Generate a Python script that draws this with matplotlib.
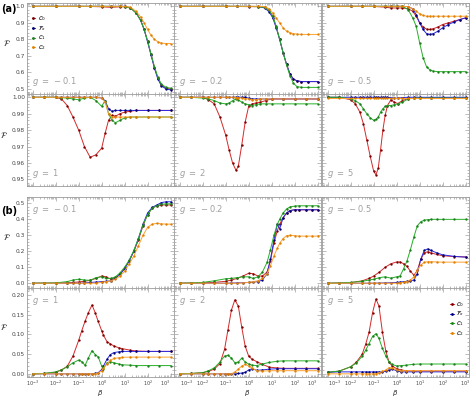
import matplotlib
matplotlib.use('Agg')
import matplotlib.pyplot as plt
import matplotlib.ticker as mticker
import numpy as np

# series labels and colours (line, marker)
labels = [r'$\mathcal{C}_0$', r'$\mathcal{F}_x$', r'$\mathcal{C}_1$', r'$\mathcal{C}_2$']
line_cols = ['#d42a2a', '#2a2ae6', '#26b026', '#ffa233']
mark_cols = ['#7a0000', '#00006e', '#1d7d1d', '#e07f00']

g_top = ['-0.1', '-0.2', '-0.5']
g_bot = ['1', '2', '5']

# ---------- (a) top row : log10(beta) grids and values ----------
a1_x = [-3, -2, -1, -0.5, 0, 0.4, 0.8, 1.0, 1.25, 1.5, 1.7, 1.85, 2.0, 2.15, 2.3, 2.45, 2.6, 2.8, 3.0]
a1_c0 = [1.0, 1.0, 1.0, 0.999, 0.997, 0.994, 0.997, 0.997, 0.99, 0.96, 0.915, 0.86, 0.79, 0.71, 0.63, 0.565, 0.525, 0.505, 0.50]
a1_fx = [1.0, 1.0, 1.0, 1.0, 1.0, 1.0, 1.0, 1.0, 0.992, 0.962, 0.915, 0.86, 0.785, 0.705, 0.625, 0.56, 0.52, 0.50, 0.495]
a1_c1 = [1.0, 1.0, 1.0, 1.0, 1.0, 0.999, 0.999, 0.998, 0.99, 0.96, 0.915, 0.86, 0.79, 0.71, 0.635, 0.57, 0.53, 0.51, 0.505]
a1_c2 = [1.0, 1.0, 1.0, 1.0, 1.0, 1.0, 1.0, 0.999, 0.995, 0.97, 0.935, 0.90, 0.86, 0.825, 0.80, 0.785, 0.778, 0.775, 0.775]

a2_x = [-3, -2, -1, -0.5, 0, 0.4, 0.7, 0.9, 1.05, 1.2, 1.35, 1.5, 1.65, 1.8, 1.95, 2.1, 2.3, 2.6, 3.0]
a2_c0 = [1.0, 1.0, 1.0, 0.999, 0.998, 0.998, 0.995, 0.975, 0.94, 0.875, 0.80, 0.72, 0.65, 0.59, 0.56, 0.55, 0.545, 0.545, 0.545]
a2_fx = [1.0, 1.0, 1.0, 1.0, 1.0, 0.999, 0.99, 0.965, 0.93, 0.87, 0.80, 0.72, 0.65, 0.59, 0.56, 0.55, 0.545, 0.545, 0.545]
a2_c1 = [1.0, 1.0, 1.0, 1.0, 0.999, 0.998, 0.993, 0.975, 0.94, 0.88, 0.80, 0.72, 0.645, 0.58, 0.535, 0.515, 0.51, 0.51, 0.51]
a2_c2 = [1.0, 1.0, 1.0, 1.0, 1.0, 1.0, 0.998, 0.985, 0.96, 0.93, 0.90, 0.87, 0.85, 0.84, 0.835, 0.832, 0.83, 0.83, 0.83]

a3_x = [-3, -2, -1.5, -1, -0.5, -0.25, 0, 0.25, 0.5, 0.7, 0.85, 1.0, 1.15, 1.3, 1.45, 1.6, 1.8, 2.0, 2.25, 2.5, 2.75, 3.0]
a3_c0 = [1.0, 1.0, 1.0, 0.999, 0.995, 0.99, 0.99, 0.99, 0.985, 0.97, 0.94, 0.90, 0.875, 0.862, 0.86, 0.865, 0.875, 0.89, 0.90, 0.91, 0.92, 0.93]
a3_fx = [1.0, 1.0, 1.0, 1.0, 1.0, 1.0, 1.0, 1.0, 0.998, 0.985, 0.95, 0.90, 0.86, 0.835, 0.83, 0.835, 0.85, 0.87, 0.89, 0.905, 0.92, 0.93]
a3_c1 = [1.0, 1.0, 1.0, 1.0, 1.0, 1.0, 1.0, 1.0, 0.98, 0.93, 0.88, 0.78, 0.69, 0.635, 0.615, 0.608, 0.605, 0.605, 0.605, 0.605, 0.605, 0.605]
a3_c2 = [1.0, 1.0, 1.0, 1.0, 1.0, 1.0, 1.0, 1.0, 0.998, 0.985, 0.97, 0.955, 0.945, 0.94, 0.94, 0.94, 0.94, 0.94, 0.94, 0.94, 0.94, 0.94]

# ---------- (a) bottom row ----------
a4_x = [-3, -2.5, -2, -1.75, -1.5, -1.25, -1.0, -0.75, -0.5, -0.25, 0, 0.15, 0.3, 0.45, 0.6, 0.8, 1.0, 1.25, 1.5, 2, 2.5, 3]
a4_c0 = [1.0, 1.0, 1.0, 0.999, 0.995, 0.988, 0.980, 0.970, 0.9635, 0.965, 0.969, 0.978, 0.986, 0.989, 0.9885, 0.990, 0.991, 0.9915, 0.992, 0.992, 0.992, 0.992]
a4_fx = [1.0, 1.0, 1.0, 1.0, 1.0, 1.0, 1.0, 1.0, 1.0, 1.0, 0.9995, 0.998, 0.993, 0.9915, 0.992, 0.992, 0.992, 0.992, 0.992, 0.992, 0.992, 0.992]
a4_c1 = [1.0, 1.0, 1.0, 0.9998, 0.9995, 0.999, 0.9985, 0.9995, 1.0, 0.998, 0.9945, 0.998, 0.99, 0.986, 0.9845, 0.986, 0.9875, 0.988, 0.988, 0.988, 0.988, 0.988]
a4_c2 = [1.0, 1.0, 1.0, 1.0, 1.0, 1.0, 1.0, 1.0, 1.0, 1.0, 0.9995, 0.997, 0.99, 0.988, 0.988, 0.988, 0.988, 0.988, 0.988, 0.988, 0.988, 0.988]

a5_x = [-3, -2.5, -2, -1.75, -1.5, -1.25, -1.0, -0.85, -0.7, -0.55, -0.45, -0.3, -0.15, 0, 0.15, 0.3, 0.5, 0.75, 1.0, 1.5, 2, 2.5, 3]
a5_c0 = [1.0, 1.0, 1.0, 0.9985, 0.996, 0.988, 0.977, 0.968, 0.960, 0.9555, 0.958, 0.971, 0.985, 0.9945, 0.996, 0.9965, 0.997, 0.998, 0.999, 0.999, 0.999, 0.999, 0.999]
a5_fx = [1.0, 1.0, 1.0, 1.0, 1.0, 1.0, 1.0, 1.0, 1.0, 1.0, 1.0, 1.0, 1.0, 0.9995, 0.999, 0.999, 0.999, 0.999, 0.999, 0.999, 0.999, 0.999, 0.999]
a5_c1 = [1.0, 1.0, 0.9995, 0.999, 0.998, 0.9965, 0.996, 0.9965, 0.998, 0.999, 0.9985, 0.997, 0.996, 0.9955, 0.995, 0.9955, 0.996, 0.996, 0.996, 0.996, 0.996, 0.996, 0.996]
a5_c2 = [1.0, 1.0, 1.0, 1.0, 1.0, 1.0, 1.0, 1.0, 1.0, 0.9998, 0.9997, 0.9995, 0.9992, 0.999, 0.9985, 0.9985, 0.999, 0.999, 0.999, 0.999, 0.999, 0.999, 0.999]

a6_x = [-3, -2.5, -2.0, -1.8, -1.6, -1.45, -1.3, -1.15, -1.0, -0.9, -0.8, -0.7, -0.6, -0.5, -0.4, -0.25, -0.1, 0.05, 0.25, 0.5, 0.75, 1.0, 1.5, 2, 2.5, 3]
a6_c0 = [1.0, 1.0, 0.9985, 0.996, 0.991, 0.984, 0.974, 0.964, 0.955, 0.9528, 0.957, 0.968, 0.980, 0.989, 0.995, 0.9985, 0.997, 0.9962, 0.998, 0.9992, 0.9995, 0.9997, 0.9997, 0.9997, 0.9997, 0.9997]
a6_fx = [1.0, 1.0, 1.0, 1.0, 1.0, 1.0, 1.0, 1.0, 1.0, 1.0, 1.0, 1.0, 1.0, 1.0, 1.0, 0.9998, 0.9995, 0.9995, 0.9998, 1.0, 1.0, 1.0, 1.0, 1.0, 1.0, 1.0]
a6_c1 = [1.0, 1.0, 0.999, 0.998, 0.996, 0.993, 0.990, 0.9875, 0.986, 0.9865, 0.988, 0.991, 0.993, 0.9945, 0.995, 0.995, 0.9955, 0.996, 0.997, 0.999, 0.9995, 0.9995, 0.9995, 0.9995, 0.9995, 0.9995]
a6_c2 = [0.9997] * 26

# ---------- (b) top row ----------
b1_x = [-3, -2.5, -2, -1.5, -1.25, -1.0, -0.75, -0.5, -0.25, 0, 0.2, 0.4, 0.6, 0.8, 1.0, 1.2, 1.4, 1.6, 1.8, 2.0, 2.2, 2.4, 2.6, 2.8, 3.0]
b1_c0 = [0.0, 0.0, 0.001, 0.003, 0.005, 0.008, 0.012, 0.018, 0.03, 0.045, 0.04, 0.025, 0.035, 0.06, 0.095, 0.14, 0.20, 0.27, 0.36, 0.43, 0.47, 0.485, 0.49, 0.49, 0.49]
b1_fx = [0.0, 0.0, 0.0, 0.0, 0.0, 0.0, 0.002, 0.005, 0.007, 0.01, 0.012, 0.015, 0.03, 0.055, 0.09, 0.14, 0.20, 0.28, 0.37, 0.44, 0.475, 0.49, 0.505, 0.51, 0.51]
b1_c1 = [0.0, 0.001, 0.002, 0.01, 0.02, 0.025, 0.02, 0.018, 0.035, 0.04, 0.03, 0.03, 0.04, 0.065, 0.10, 0.145, 0.205, 0.28, 0.365, 0.43, 0.47, 0.485, 0.495, 0.497, 0.497]
b1_c2 = [0.0, 0.0, 0.0, 0.0, 0.0, 0.0, 0.0, 0.0, 0.0, 0.005, 0.01, 0.015, 0.025, 0.045, 0.075, 0.12, 0.17, 0.235, 0.30, 0.35, 0.37, 0.375, 0.372, 0.37, 0.37]

b2_x = [-3, -2.5, -2, -1.5, -1.0, -0.75, -0.5, -0.25, 0, 0.2, 0.4, 0.6, 0.8, 0.95, 1.1, 1.25, 1.35, 1.5, 1.65, 1.8, 2.0, 2.2, 2.5, 2.75, 3.0]
b2_c0 = [0.0, 0.001, 0.002, 0.005, 0.012, 0.02, 0.03, 0.045, 0.062, 0.06, 0.045, 0.045, 0.07, 0.14, 0.25, 0.33, 0.37, 0.41, 0.44, 0.455, 0.46, 0.46, 0.46, 0.46, 0.46]
b2_fx = [0.0, 0.0, 0.0, 0.0, 0.0, 0.001, 0.002, 0.003, 0.005, 0.007, 0.01, 0.02, 0.06, 0.15, 0.27, 0.37, 0.34, 0.41, 0.44, 0.455, 0.46, 0.46, 0.46, 0.46, 0.46]
b2_c1 = [0.0, 0.002, 0.005, 0.015, 0.028, 0.03, 0.035, 0.04, 0.04, 0.03, 0.04, 0.07, 0.13, 0.21, 0.30, 0.37, 0.40, 0.44, 0.465, 0.478, 0.483, 0.485, 0.485, 0.485, 0.485]
b2_c2 = [0.0, 0.0, 0.0, 0.0, 0.0, 0.0, 0.0, 0.002, 0.005, 0.01, 0.015, 0.03, 0.06, 0.11, 0.17, 0.22, 0.25, 0.28, 0.298, 0.30, 0.298, 0.295, 0.295, 0.295, 0.295]

b3_x = [-3, -2.5, -2, -1.5, -1.2, -1.0, -0.75, -0.5, -0.25, 0, 0.15, 0.3, 0.45, 0.6, 0.75, 0.9, 1.05, 1.2, 1.35, 1.5, 1.75, 2.0, 2.5, 3.0]
b3_c0 = [0.0, 0.001, 0.004, 0.015, 0.03, 0.045, 0.07, 0.10, 0.122, 0.133, 0.133, 0.122, 0.105, 0.075, 0.05, 0.08, 0.15, 0.19, 0.197, 0.19, 0.18, 0.172, 0.167, 0.165]
b3_fx = [0.0, 0.0, 0.0, 0.0, 0.0, 0.0, 0.001, 0.002, 0.003, 0.005, 0.007, 0.01, 0.012, 0.015, 0.02, 0.06, 0.15, 0.205, 0.215, 0.205, 0.19, 0.178, 0.168, 0.163]
b3_c1 = [0.0, 0.002, 0.005, 0.012, 0.02, 0.025, 0.035, 0.04, 0.032, 0.04, 0.045, 0.09, 0.14, 0.21, 0.29, 0.36, 0.385, 0.395, 0.398, 0.40, 0.40, 0.40, 0.40, 0.40]
b3_c2 = [0.0, 0.0, 0.0, 0.0, 0.0, 0.0, 0.0, 0.0, 0.0, 0.0, 0.002, 0.005, 0.01, 0.02, 0.04, 0.08, 0.115, 0.13, 0.135, 0.135, 0.133, 0.132, 0.132, 0.132]

# ---------- (b) bottom row ----------
b4_x = [-3, -2.5, -2, -1.75, -1.5, -1.25, -1.0, -0.875, -0.72, -0.58, -0.42, -0.28, -0.15, 0.0, 0.08, 0.23, 0.38, 0.53, 0.75, 0.9, 1.25, 1.5, 2, 2.5, 3]
b4_c0 = [0.0, 0.001, 0.004, 0.01, 0.019, 0.045, 0.085, 0.108, 0.134, 0.155, 0.175, 0.155, 0.133, 0.11, 0.098, 0.082, 0.076, 0.071, 0.066, 0.064, 0.060, 0.058, 0.057, 0.057, 0.057]
b4_fx = [0.0, 0.0, 0.0, 0.0, 0.0, 0.0, 0.0, 0.0, 0.0, 0.0, 0.0, 0.001, 0.003, 0.011, 0.02, 0.037, 0.049, 0.054, 0.056, 0.057, 0.057, 0.057, 0.057, 0.057, 0.057]
b4_c1 = [0.0, 0.001, 0.005, 0.01, 0.018, 0.028, 0.035, 0.031, 0.022, 0.04, 0.059, 0.049, 0.043, 0.02, 0.013, 0.028, 0.031, 0.028, 0.025, 0.023, 0.022, 0.021, 0.021, 0.021, 0.021]
b4_c2 = [0.0, 0.0, 0.0, 0.0, 0.0, 0.0, 0.0, 0.0, 0.0, 0.0, 0.0, 0.0, 0.002, 0.008, 0.014, 0.025, 0.034, 0.039, 0.041, 0.042, 0.0425, 0.0425, 0.0425, 0.0425, 0.0425]

b5_x = [-3, -2.5, -2, -1.75, -1.5, -1.25, -1.05, -0.9, -0.75, -0.6, -0.45, -0.3, -0.15, 0, 0.15, 0.35, 0.6, 0.9, 1.25, 1.5, 2, 2.5, 3]
b5_c0 = [0.0, 0.001, 0.003, 0.006, 0.012, 0.026, 0.062, 0.112, 0.162, 0.188, 0.172, 0.118, 0.07, 0.045, 0.037, 0.031, 0.024, 0.017, 0.015, 0.014, 0.014, 0.014, 0.014]
b5_fx = [0.0, 0.0, 0.0, 0.0, 0.0, 0.0, 0.0, 0.0, 0.0, 0.0, 0.001, 0.002, 0.004, 0.01, 0.013, 0.009, 0.01, 0.012, 0.013, 0.013, 0.013, 0.013, 0.013]
b5_c1 = [0.0, 0.001, 0.003, 0.008, 0.015, 0.03, 0.045, 0.047, 0.04, 0.028, 0.03, 0.04, 0.03, 0.025, 0.022, 0.021, 0.025, 0.029, 0.032, 0.033, 0.033, 0.033, 0.033]
b5_c2 = [0.0, 0.0, 0.0, 0.0, 0.0, 0.0, 0.0, 0.0, 0.0, 0.005, 0.012, 0.02, 0.024, 0.02, 0.015, 0.008, 0.007, 0.008, 0.008, 0.008, 0.008, 0.008, 0.008]

b6_x = [-3, -2.5, -2, -1.75, -1.5, -1.35, -1.2, -1.05, -0.9, -0.77, -0.62, -0.47, -0.33, -0.2, 0, 0.2, 0.4, 0.7, 1, 1.5, 2, 2.5, 3]
b6_c0 = [0.004, 0.007, 0.018, 0.03, 0.05, 0.075, 0.106, 0.155, 0.19, 0.172, 0.106, 0.057, 0.03, 0.02, 0.013, 0.01, 0.008, 0.007, 0.007, 0.007, 0.007, 0.007, 0.007]
b6_fx = [0.004, 0.005, 0.005, 0.005, 0.005, 0.005, 0.005, 0.005, 0.005, 0.005, 0.005, 0.007, 0.01, 0.012, 0.008, 0.005, 0.005, 0.005, 0.005, 0.005, 0.005, 0.005, 0.005]
b6_c1 = [0.004, 0.007, 0.018, 0.028, 0.045, 0.06, 0.077, 0.095, 0.102, 0.09, 0.065, 0.045, 0.03, 0.024, 0.02, 0.021, 0.022, 0.024, 0.025, 0.025, 0.025, 0.025, 0.025]
b6_c2 = [0.0, 0.0, 0.0, 0.0, 0.0, 0.0, 0.0, 0.0, 0.0, 0.003, 0.006, 0.01, 0.016, 0.015, 0.01, 0.008, 0.008, 0.008, 0.008, 0.008, 0.008, 0.008, 0.008]

rows = [
    [(a1_x, [a1_c0, a1_fx, a1_c1, a1_c2]), (a2_x, [a2_c0, a2_fx, a2_c1, a2_c2]), (a3_x, [a3_c0, a3_fx, a3_c1, a3_c2])],
    [(a4_x, [a4_c0, a4_fx, a4_c1, a4_c2]), (a5_x, [a5_c0, a5_fx, a5_c1, a5_c2]), (a6_x, [a6_c0, a6_fx, a6_c1, a6_c2])],
    [(b1_x, [b1_c0, b1_fx, b1_c1, b1_c2]), (b2_x, [b2_c0, b2_fx, b2_c1, b2_c2]), (b3_x, [b3_c0, b3_fx, b3_c1, b3_c2])],
    [(b4_x, [b4_c0, b4_fx, b4_c1, b4_c2]), (b5_x, [b5_c0, b5_fx, b5_c1, b5_c2]), (b6_x, [b6_c0, b6_fx, b6_c1, b6_c2])],
]

ylims = [(0.47, 1.02), (0.946, 1.002), (-0.03, 0.54), (-0.008, 0.218)]
ymaj = [0.1, 0.01, 0.1, 0.05]
ymin = [0.02, 0.002, 0.02, 0.01]
yfmt = ['%.1f', '%.2f', '%.1f', '%.2f']
gvals = [g_top, g_bot, g_top, g_bot]

W, H = 474, 397
col_x = [27, 174, 322]
col_w = 147
row_y = [(3, 94), (94, 186), (197, 288), (288, 377)]

fig = plt.figure(figsize=(W / 100, H / 100), dpi=100)
bottom_axes = []

for r in range(4):
    for c in range(3):
        top, bot = row_y[r]
        ax = fig.add_axes([col_x[c] / W, 1 - bot / H, col_w / W, (bot - top) / H])
        xs, series = rows[r][c]
        beta = 10.0 ** np.array(xs)
        for k, ys in enumerate(series):
            ax.plot(beta, ys, '-', color=line_cols[k], lw=0.7, marker='o', ms=1.7,
                    mfc=mark_cols[k], mec=mark_cols[k], mew=0, label=labels[k])
        ax.set_xscale('log')
        ax.set_xlim(10 ** -3.25, 10 ** 3.15)
        ax.set_ylim(*ylims[r])
        ax.xaxis.set_major_locator(mticker.FixedLocator(10.0 ** np.arange(-3, 4)))
        ax.xaxis.set_minor_locator(mticker.LogLocator(base=10, subs=np.arange(2, 10), numticks=20))
        ax.xaxis.set_minor_formatter(mticker.NullFormatter())
        ax.yaxis.set_major_locator(mticker.MultipleLocator(ymaj[r]))
        ax.yaxis.set_minor_locator(mticker.MultipleLocator(ymin[r]))
        ax.yaxis.set_major_formatter(mticker.FormatStrFormatter(yfmt[r]))
        ax.tick_params(which='both', direction='in', top=True, right=True, color='#8a8a8a',
                       width=0.4, labelsize=4.2, labelcolor='#444444', pad=1.5)
        ax.tick_params(axis='x', labelsize=3.5, pad=1.2)
        ax.tick_params(which='major', length=2.6)
        ax.tick_params(which='minor', length=1.3)
        for sp in ax.spines.values():
            sp.set_color('#9a9a9a')
            sp.set_linewidth(0.6)
        if c > 0:
            ax.tick_params(labelleft=False)
        if r != 3:
            ax.tick_params(labelbottom=False)
        else:
            ax.set_xlabel(r'$\beta$', fontsize=5, labelpad=0, color='#333333')
            bottom_axes.append(ax)
        if c == 0:
            ax.set_ylabel(r'$\mathcal{F}$', fontsize=6, rotation=0, labelpad=6, color='#333333')
        gtxt = r'$g\;=\;' + gvals[r][c] + '$'
        if r in (0, 1):
            ax.text(0.035, 0.07, gtxt, transform=ax.transAxes, fontsize=6, color='#a0a0a0', va='bottom')
        else:
            ax.text(0.035, 0.93, gtxt, transform=ax.transAxes, fontsize=6, color='#a0a0a0', va='top')
        if r == 0 and c == 0:
            ax.legend(loc='upper left', bbox_to_anchor=(0.0, 0.93), fontsize=4.2, frameon=False,
                      handlelength=0.6, handletextpad=0.4, labelspacing=0.15, borderpad=0.3,
                      markerscale=1.2)
        if r == 3 and c == 2:
            ax.legend(loc='upper right', bbox_to_anchor=(1.0, 0.92), fontsize=4.2, frameon=False,
                      handlelength=0.6, handletextpad=0.4, labelspacing=0.15, borderpad=0.3,
                      markerscale=1.2)

fig.text(1 / W, 1 - 9 / H, '(a)', fontsize=7, fontweight='bold', va='center')
fig.text(1 / W, 1 - 211 / H, '(b)', fontsize=7, fontweight='bold', va='center')

# keep the 10^3 / 10^-3 labels of neighbouring panels apart
fig.canvas.draw()
for i, ax in enumerate(bottom_axes):
    tl = ax.get_xticklabels()
    if i > 0:
        tl[0].set_horizontalalignment('left')
        tl[0].set_x(tl[0].get_position()[0])
    if i < len(bottom_axes) - 1:
        tl[-1].set_horizontalalignment('right')

fig.savefig('out.png', dpi=100)
